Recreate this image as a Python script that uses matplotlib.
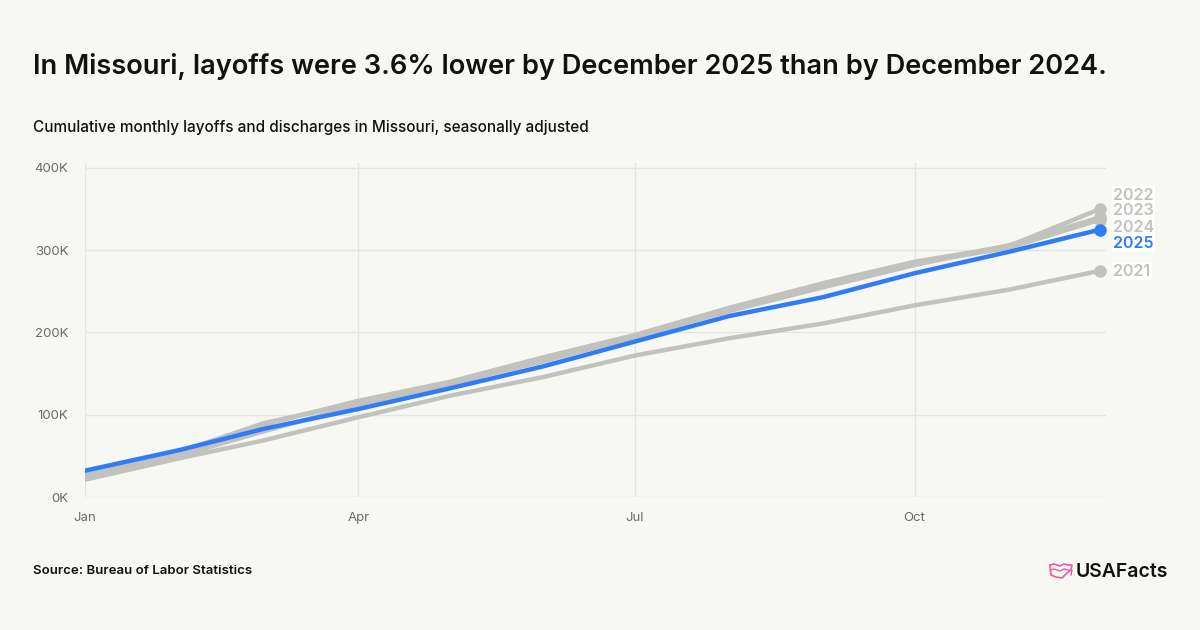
import matplotlib.pyplot as plt
import matplotlib.dates as mdates
import numpy as np
import pandas as pd

months = pd.date_range("2025-01-01", periods=12, freq="MS")
layoffs_2021 = [21, 47, 69, 97, 123, 146, 172, 193, 211, 233, 252, 275]
layoffs_2022 = [25, 53, 88, 117, 140, 170, 197, 230, 260, 286, 305, 350]
layoffs_2023 = [23, 50, 80, 112, 138, 165, 195, 226, 255, 282, 306, 340]
layoffs_2024 = [27, 55, 90, 115, 136, 168, 193, 228, 258, 284, 303, 337]
layoffs_2025 = [32, 57, 83, 107, 132, 159, 189, 220, 243, 272, 298, 325]

BG = "#f7f7f4"
GRAY = "#c2c2bd"
BLUE = "#2f7cf6"

plt.rcParams["font.family"] = ["Inter", "DejaVu Sans"]

fig = plt.figure(figsize=(12, 6.3), dpi=100, facecolor=BG)
ax = fig.add_axes([85 / 1200, 1 - 497 / 630, (1106 - 85) / 1200, (497 - 163) / 630])
ax.set_facecolor(BG)

grays = [("2021", layoffs_2021), ("2022", layoffs_2022),
         ("2023", layoffs_2023), ("2024", layoffs_2024)]
for name, vals in grays:
    y = np.array(vals) * 1000
    ax.plot(months, y, color=GRAY, lw=3.2, solid_capstyle="round", zorder=2)
    ax.plot(months[-1], y[-1], "o", color=GRAY, ms=8, zorder=3)

y25 = np.array(layoffs_2025) * 1000
ax.plot(months, y25, color=BLUE, lw=3.2, solid_capstyle="round", zorder=4)
ax.plot(months[-1], y25[-1], "o", color=BLUE, ms=8, zorder=5)

ax.set_xlim(pd.Timestamp("2025-01-01"), pd.Timestamp("2025-12-03"))
ax.set_ylim(0, 406000)
ax.set_yticks([0, 100000, 200000, 300000, 400000])
ax.set_yticklabels(["0K", "100K", "200K", "300K", "400K"])
ax.set_xticks(pd.to_datetime(["2025-01-01", "2025-04-01", "2025-07-01", "2025-10-01"]))
ax.xaxis.set_major_formatter(mdates.DateFormatter("%b"))
ax.grid(True, color="#e4e4e2", lw=1)
ax.set_axisbelow(True)
for s in ax.spines.values():
    s.set_visible(False)
ax.tick_params(length=0, labelsize=9.5, colors="#6a6a6a", pad=12)
ax.tick_params(axis="x", pad=11)

# end labels, stacked to avoid overlap
labels = [("2022", 195, GRAY), ("2023", 211, GRAY), ("2024", 227, GRAY),
          ("2025", 243, BLUE), ("2021", 271, GRAY)]
for text, ypx, col in labels:
    fig.text(1113 / 1200, 1 - ypx / 630, text, color=col, fontsize=11.5,
             fontweight="semibold", va="center", ha="left",
             bbox=dict(boxstyle="square,pad=0.08", fc="white", ec="none"))

fig.text(33 / 1200, 1 - 67 / 630,
         "In Missouri, layoffs were 3.6% lower by December 2025 than by December 2024.",
         fontsize=19.6, fontweight="semibold", color="#111111", va="center")
fig.text(33 / 1200, 1 - 128 / 630,
         "Cumulative monthly layoffs and discharges in Missouri, seasonally adjusted",
         fontsize=11, fontweight="medium", color="#111111", va="center")
fig.text(33 / 1200, 1 - 571 / 630, "Source: Bureau of Labor Statistics",
         fontsize=9.5, fontweight="semibold", color="#111111", va="center")
fig.text(1168 / 1200, 1 - 572 / 630, "USAFacts", fontsize=14,
         fontweight="semibold", color="#111111", va="center", ha="right")

# small pink map outline for the logo
lx = np.array([1050, 1054, 1060, 1064, 1068, 1072, 1071, 1066, 1062, 1056, 1051, 1050])
ly = np.array([565, 564, 566, 564, 565, 565, 570, 574, 578, 577, 575, 565])
fig.add_artist(plt.Line2D(lx / 1200, 1 - ly / 630, color="#ee5aa6", lw=1.2))
fig.add_artist(plt.Line2D(lx[:7] / 1200, 1 - (ly[:7] + 5) / 630, color="#ee5aa6", lw=1.0))

fig.savefig("out.png", dpi=100, facecolor=BG)
